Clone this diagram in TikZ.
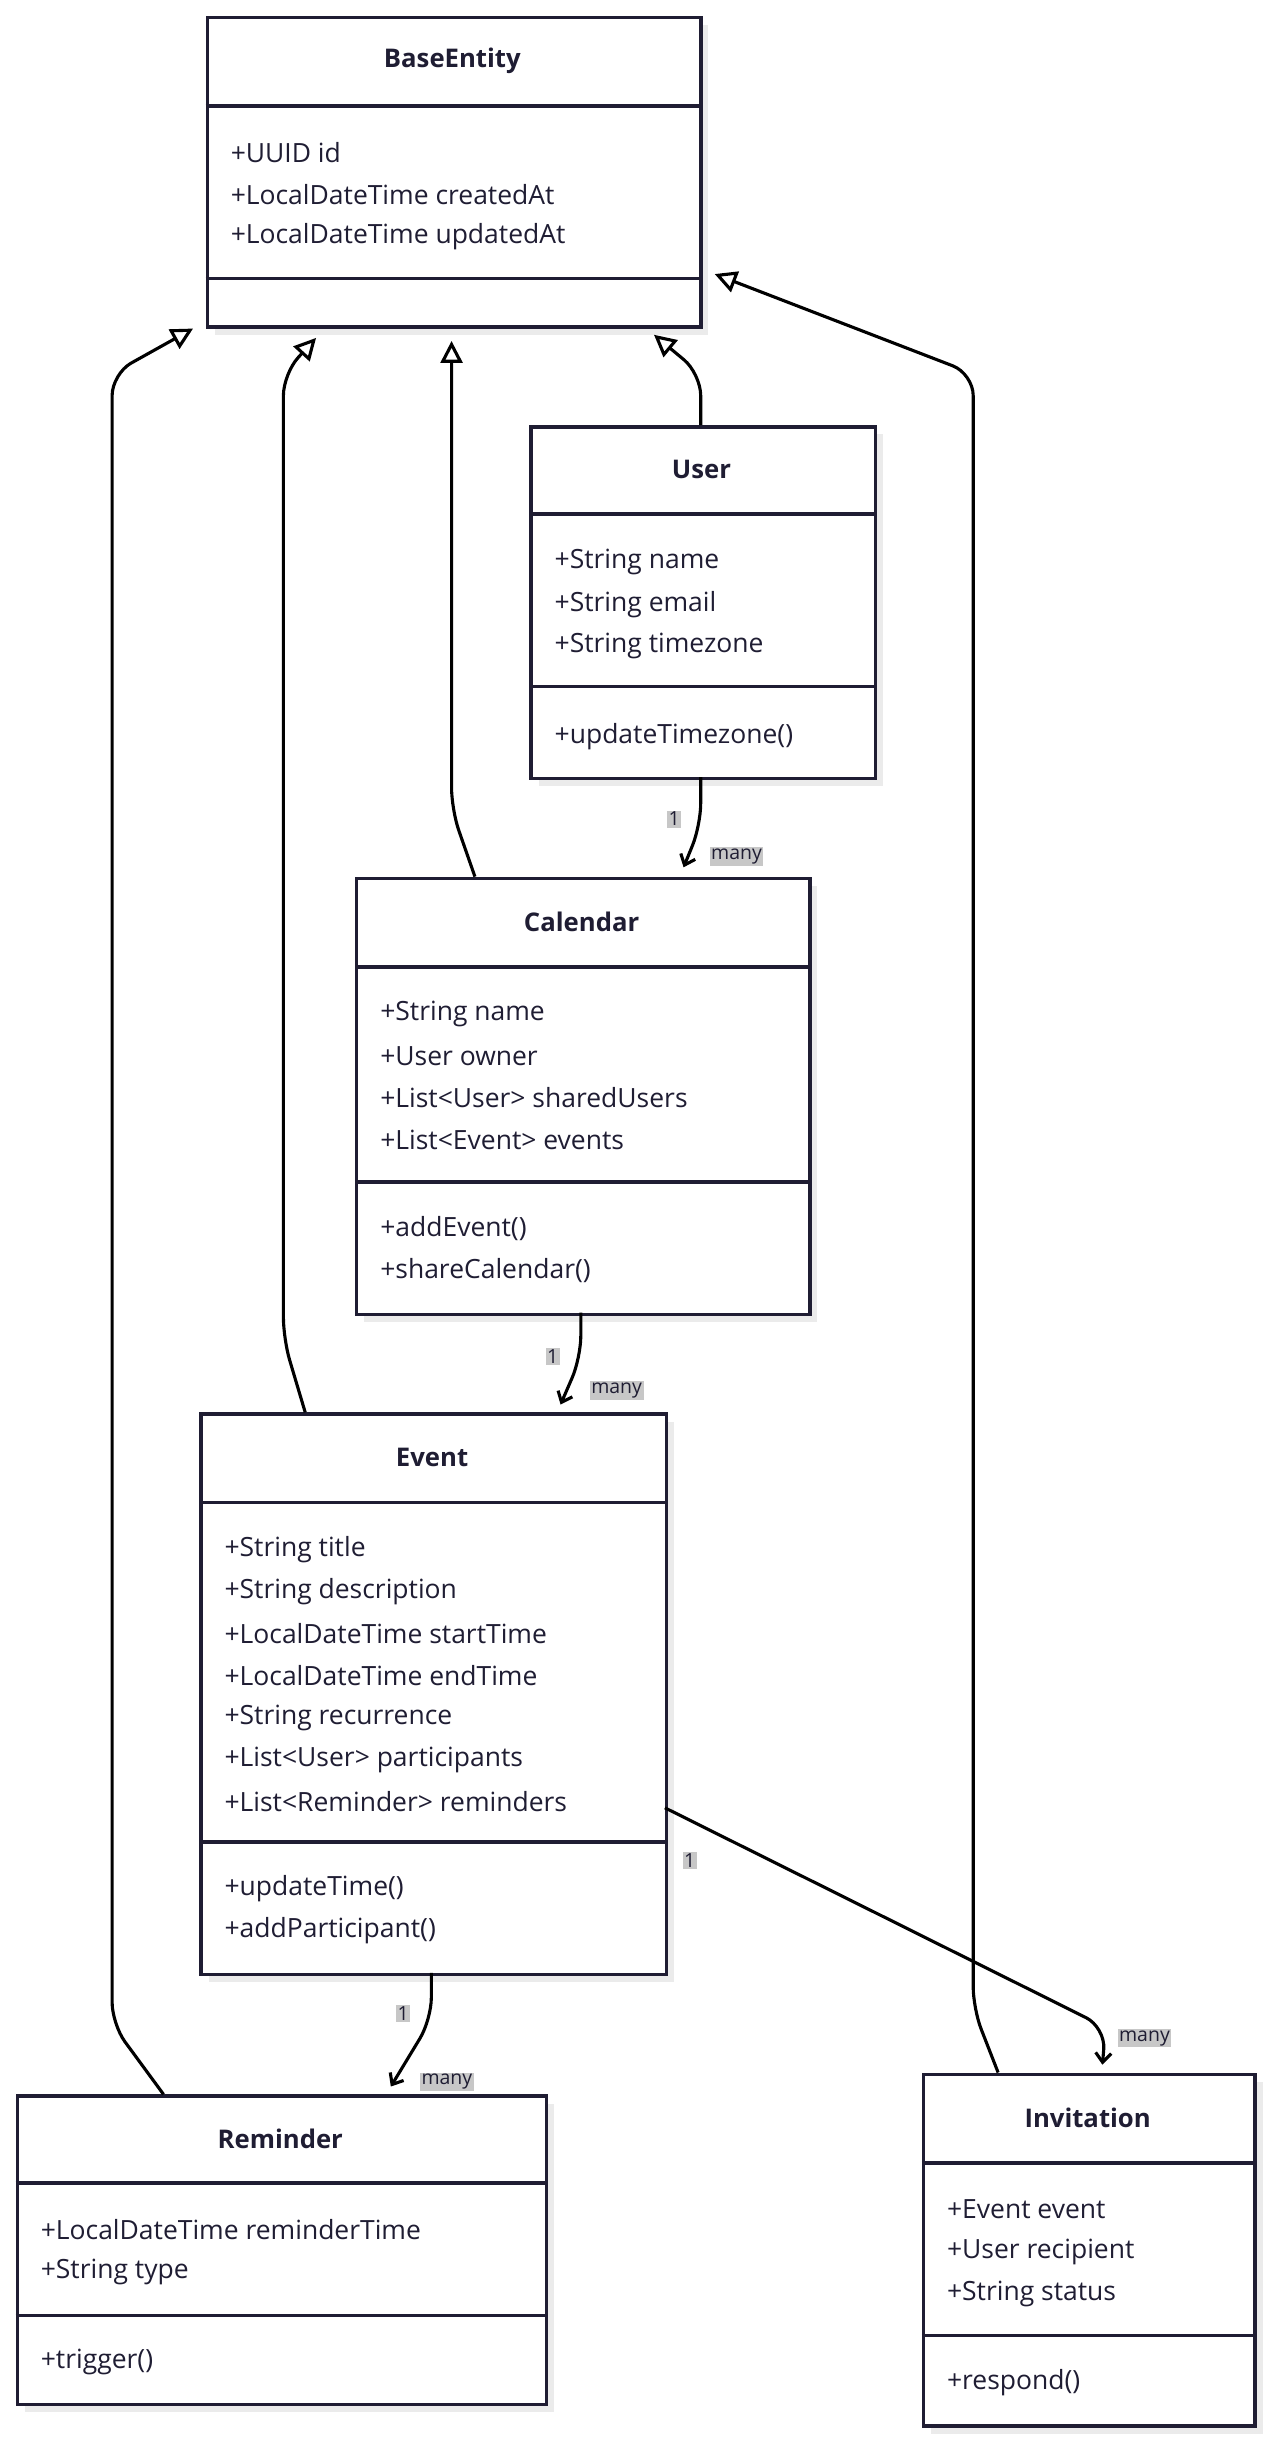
\documentclass[tikz,border=0pt]{standalone}
\usepackage{fontspec}
\setmainfont{Open Sans}
\usetikzlibrary{arrows.meta}
\definecolor{ink}{HTML}{1F1D33}
\tikzset{
 box/.style={draw=ink,line width=2.2pt,fill=white,inner sep=0pt,anchor=north west},
 shadow/.style={fill=black!8,draw=none},
 ttl/.style={font=\fontsize{16.5}{20}\selectfont\bfseries,text=ink},
 txt/.style={font=\fontsize{17}{20}\selectfont,text=ink,anchor=west,inner sep=0pt},
 lbl/.style={font=\fontsize{12.5}{14}\selectfont,fill=black!22,text=ink,inner sep=1pt},
 inh/.style={draw=black,line width=2pt,-{Triangle[open,length=14pt,width=14pt]},rounded corners=14pt},
 asc/.style={draw=black,line width=2pt,-{Straight Barb[length=6pt,width=10pt]},rounded corners=14pt},
}
% \umlb{name}{x1}{y1}{x2}{y2}{header}{divider}{title}
\newcommand{\umlb}[8]{%
 \fill[shadow] (#2+6,#3+6) rectangle (#4+6,#5+6);
 \node[box,minimum width=#4-#2,minimum height=#5-#3] (#1) at (#2,#3) {};
 \draw[ink,line width=2.2pt] (#2,#6) -- (#4,#6) (#2,#7) -- (#4,#7);
 \node[ttl] (#1t) at ({(#2+#4)/2},{(#3+#6)/2}) {#8};}
\begin{document}
\begin{tikzpicture}[x=1pt,y=-1pt]
\useasboundingbox[fill=white] (0,0) rectangle (820,1576);
\umlb{base}{132}{10}{449}{209}{68}{179}{BaseEntity}
\node[txt] at (148,98) {+UUID id};
\node[txt] at (148,125) {+LocalDateTime createdAt};
\node[txt] at (148,152) {+LocalDateTime updatedAt};
\umlb{user}{340}{273}{561}{499}{330}{441}{User}
\node[txt] at (356,361) {+String name};
\node[txt] at (356,388) {+String email};
\node[txt] at (356,415) {+String timezone};
\node[txt] at (356,473) {+updateTimezone()};
\umlb{cal}{228}{563}{519}{843}{621}{759}{Calendar}
\node[txt] at (244,651) {+String name};
\node[txt] at (244,678) {+User owner};
\node[txt] at (244,705) {+List<User> sharedUsers};
\node[txt] at (244,732) {+List<Event> events};
\node[txt] at (244,789) {+addEvent()};
\node[txt] at (244,816) {+shareCalendar()};
\umlb{event}{128}{907}{427}{1267}{965}{1183}{Event}
\node[txt] at (144,995) {+String title};
\node[txt] at (144,1022) {+String description};
\node[txt] at (144,1049) {+LocalDateTime startTime};
\node[txt] at (144,1076) {+LocalDateTime endTime};
\node[txt] at (144,1103) {+String recurrence};
\node[txt] at (144,1130) {+List<User> participants};
\node[txt] at (144,1157) {+List<Reminder> reminders};
\node[txt] at (144,1213) {+updateTime()};
\node[txt] at (144,1240) {+addParticipant()};
\umlb{rem}{10}{1345}{350}{1543}{1402}{1487}{Reminder}
\node[txt] at (26,1432) {+LocalDateTime reminderTime};
\node[txt] at (26,1459) {+String type};
\node[txt] at (26,1517) {+trigger()};
\umlb{inv}{592}{1331}{805}{1557}{1389}{1500}{Invitation}
\node[txt] at (608,1419) {+Event event};
\node[txt] at (608,1446) {+User recipient};
\node[txt] at (608,1473) {+String status};
\node[txt] at (608,1530) {+respond()};
% connector coordinates
\coordinate (u1) at (450,273); \coordinate (u2) at (450,240); \coordinate (ue) at (420,215);
\coordinate (c1) at (305,563); \coordinate (c2) at (290,520); \coordinate (ce) at (290,219);
\coordinate (e1) at (196,907); \coordinate (e2) at (182,860); \coordinate (e3) at (182,240); \coordinate (ee) at (203,217);
\coordinate (r1) at (105,1345); \coordinate (r2) at (72,1300); \coordinate (r3) at (72,240); \coordinate (re) at (124,211);
\coordinate (i1) at (641,1331); \coordinate (i2) at (625,1290); \coordinate (i3) at (625,240); \coordinate (ie) at (459,176);
\draw[inh] (u1) -- (u2) -- (ue);
\draw[inh] (c1) -- (c2) -- (ce);
\draw[inh] (e1) -- (e2) -- (e3) -- (ee);
\draw[inh] (r1) -- (r2) -- (r3) -- (re);
\draw[inh] (i1) -- (i2) -- (i3) -- (ie);
\coordinate (ua) at (450,499); \coordinate (ub) at (450,530); \coordinate (ue2) at (439,557);
\draw[asc] (ua) -- (ub) -- (ue2);
\node[lbl] at (433,526) {1}; \node[lbl] at (473,550) {many};
\coordinate (ca) at (373,843); \coordinate (cb) at (373,872); \coordinate (ce2) at (360,902);
\draw[asc] (ca) -- (cb) -- (ce2);
\node[lbl] at (355,871) {1}; \node[lbl] at (396,893) {many};
\coordinate (ea) at (277,1267); \coordinate (eb) at (277,1297); \coordinate (ee2) at (251,1340);
\draw[asc] (ea) -- (eb) -- (ee2);
\node[lbl] at (259,1293) {1}; \node[lbl] at (287,1337) {many};
\coordinate (fa) at (427,1161); \coordinate (fb) at (710,1302); \coordinate (fe) at (708,1326);
\draw[asc] (fa) -- (fb) -- (fe);
\node[lbl] at (443,1195) {1}; \node[lbl] at (735,1309) {many};
\end{tikzpicture}
\end{document}
